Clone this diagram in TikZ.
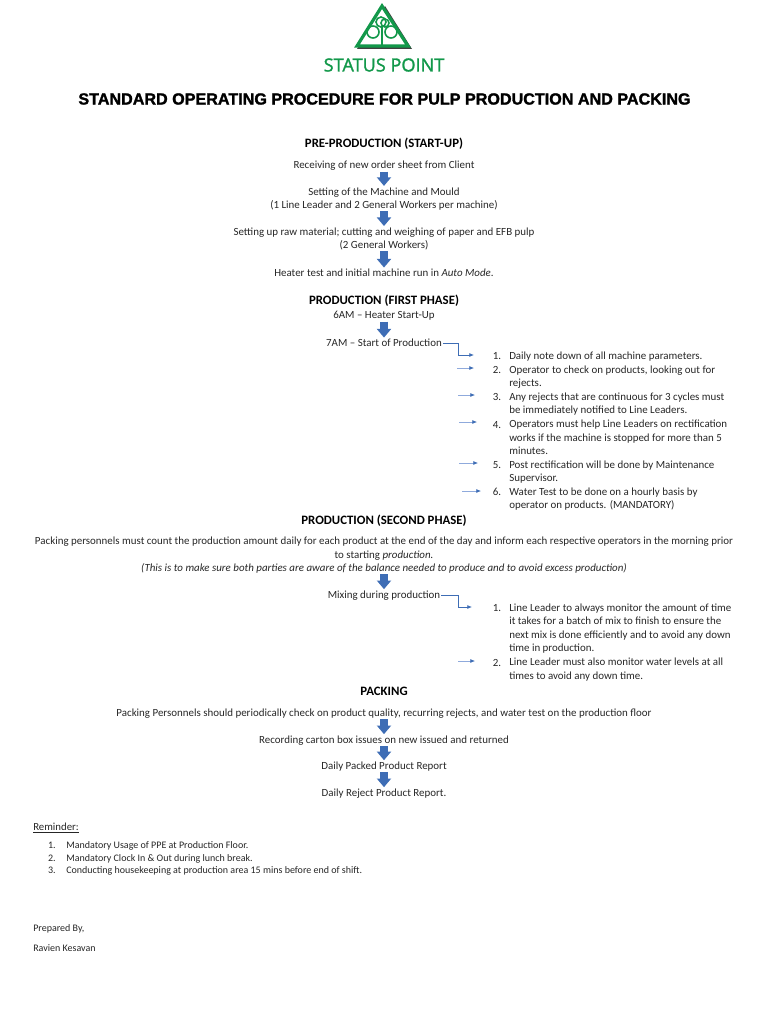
\documentclass[tikz,border=0pt]{standalone}
\usepackage{fontspec}
\setmainfont{Carlito}
\newfontfamily\titlefont[FakeBold=1.6]{Liberation Sans Bold}
\newfontfamily\logofont[FakeBold=1.5]{Open Sans}
\usetikzlibrary{arrows.meta}
\definecolor{flowblue}{HTML}{3E6DB5}
\definecolor{fadeblue}{HTML}{8FAADC}
\definecolor{logogreen}{HTML}{12984A}
\tikzset{
  body/.style={inner sep=0.5pt,align=center,font=\fontsize{8.2}{10.2}\selectfont,text=black!85},
  heading/.style={inner sep=0.5pt,font=\fontsize{9.6}{11}\selectfont\bfseries},
  listnum/.style={inner sep=0pt,anchor=base east,font=\fontsize{8.2}{10.2}\selectfont,text=black!85},
  listtext/.style={inner sep=0pt,anchor=north west,align=left,font=\fontsize{8.2}{10.2}\selectfont,text=black!85},
  smalltext/.style={inner sep=0pt,anchor=base west,font=\fontsize{7.5}{9}\selectfont,text=black!85},
  blockflow/.style={line width=5.4pt,flowblue,shorten >=0.5pt,-{Triangle[length=6.5pt,width=10.5pt]}},
  elbow/.style={line width=0.6pt,flowblue,-{Latex[length=3.5pt,width=3pt]}},
  sideflow/.style={line width=0.5pt,fadeblue,-{Latex[length=3.5pt,width=3pt,flowblue]}}
}
\begin{document}
\begin{tikzpicture}[x=0.75pt,y=-0.75pt]
  \useasboundingbox (0,0) rectangle (768,1024);

  %logo
  \fill[black!75] (385,6) -- (412,49) -- (357,49) -- cycle;
  \draw[logogreen,line width=2.4pt,fill=white,line join=miter] (382,6) -- (408,46) -- (357,46) -- cycle;
  \begin{scope}[logogreen,line width=1.2pt]
    \draw (381,22) circle (5);
    \draw (385,23) circle (4);
    \draw (373,32) circle (6);
    \draw (391,32) circle (6);
    \draw (382,27) -- (382,45);
  \end{scope}
  \node[inner sep=0pt,text=logogreen,font=\logofont\fontsize{13.6}{15}\selectfont] (logo) at (384,65) {STATUS POINT};

  \node[inner sep=0pt,font=\titlefont\fontsize{12.1}{14}\selectfont] (title) at (384.5,99) {STANDARD OPERATING PROCEDURE FOR PULP PRODUCTION AND PACKING};

  %pre production
  \node[heading] (prehead) at (384,144) {PRE-PRODUCTION (START-UP)};
  \node[body] (order) at (384,166) {Receiving of new order sheet from Client};
  \node[body] (mould) at (384,199) {Setting of the Machine and Mould\\(1 Line Leader and 2 General Workers per machine)};
  \node[body] (raw) at (384,239) {Setting up raw material; cutting and weighing of paper and EFB pulp\\(2 General Workers)};
  \node[body] (heater) at (384,273) {Heater test and initial machine run in \textit{Auto Mode}.};

  %first phase
  \node[heading] (firsthead) at (384,301) {PRODUCTION (FIRST PHASE)};
  \node[body] (six) at (384,316) {6AM -- Heater Start-Up};
  \node[body] (seven) at (384,343) {7AM -- Start of Production};

  \foreach \n/\y/\t in {
    1/358.5/{Daily note down of all machine parameters.},
    2/372.5/{Operator to check on products, looking out for\\rejects.},
    3/399.5/{Any rejects that are continuous for 3 cycles must\\be immediately notified to Line Leaders.},
    4/427/{Operators must help Line Leaders on rectification\\works if the machine is stopped for more than 5\\minutes.},
    5/467.5/{Post rectification will be done by Maintenance\\Supervisor.},
    6/494.5/{Water Test to be done on a hourly basis by\\operator on products. (MANDATORY)}}
  {
    \node[listnum] (firstnum\n) at (501.5,\y+1) {\n.};
    \node[listtext] (firstitem\n) at (509,\y-7.3) {\t};
  }

  %second phase
  \node[heading] (secondhead) at (384,521) {PRODUCTION (SECOND PHASE)};
  \node[body] (count) at (384,548.5) {Packing personnels must count the production amount daily for each product at the end of the day and inform each respective operators in the morning prior\\to starting \textit{production.}};
  \node[body] (aware) at (384,568.5) {\textit{(This is to make sure both parties are aware of the balance needed to produce and to avoid excess production)}};
  \node[body] (mixing) at (384,595.5) {Mixing during production};

  \foreach \n/\y/\t in {
    1/610.5/{Line Leader to always monitor the amount of time\\it takes for a batch of mix to finish to ensure the\\next mix is done efficiently and to avoid any down\\time in production.},
    2/665/{Line Leader must also monitor water levels at all\\times to avoid any down time.}}
  {
    \node[listnum] (mixnum\n) at (501.5,\y+1) {\n.};
    \node[listtext] (mixitem\n) at (509,\y-7.3) {\t};
  }

  %packing
  \node[heading] (packhead) at (384,691) {PACKING};
  \node[body] (quality) at (384,713.5) {Packing Personnels should periodically check on product quality, recurring rejects, and water test on the production floor};
  \node[body] (carton) at (384,740.5) {Recording carton box issues on new issued and returned};
  \node[body] (packed) at (384,766.5) {Daily Packed Product Report};
  \node[body] (reject) at (384,793.5) {Daily Reject Product Report.};

  %block arrows
  \foreach \a/\b in {order/mould,mould/raw,raw/heater,six/seven,aware/mixing,quality/carton,carton/packed,packed/reject}
    \draw[blockflow] (\a.south) -- (\b.north);

  %side arrows
  \coordinate (seventip) at (474,355);
  \coordinate (mixtip) at (472,607);
  \draw[elbow] (seven.east) -- ++(16,0) |- (seventip);
  \draw[elbow] (mixing.east) -- ++(17,0) |- (mixtip);
  \foreach \i/\xa/\xb/\y in {a/457/474/368,b/458/475/395,c/459/477/422,d/459/478/463,e/462/481/491,f/458/475/661}
  {
    \coordinate (from\i) at (\xa,\y);
    \coordinate (to\i) at (\xb,\y);
    \draw[sideflow] (from\i) -- (to\i);
  }

  %reminder
  \node[smalltext] (reminder) at (33,830) {\fontsize{8.1}{9}\selectfont\underline{Reminder:}};
  \foreach \n/\y/\t in {
    1/848.5/{Mandatory Usage of PPE at Production Floor.},
    2/861/{Mandatory Clock In \& Out during lunch break.},
    3/873.5/{Conducting housekeeping at production area 15 mins before end of shift.}}
  {
    \node[smalltext,anchor=base east] (remnum\n) at (56,\y) {\n.};
    \node[smalltext] (remitem\n) at (66,\y) {\t};
  }
  \node[smalltext] (prepared) at (33,931) {Prepared By,};
  \node[smalltext] (author) at (33,951) {Ravien Kesavan};
\end{tikzpicture}
\end{document}
